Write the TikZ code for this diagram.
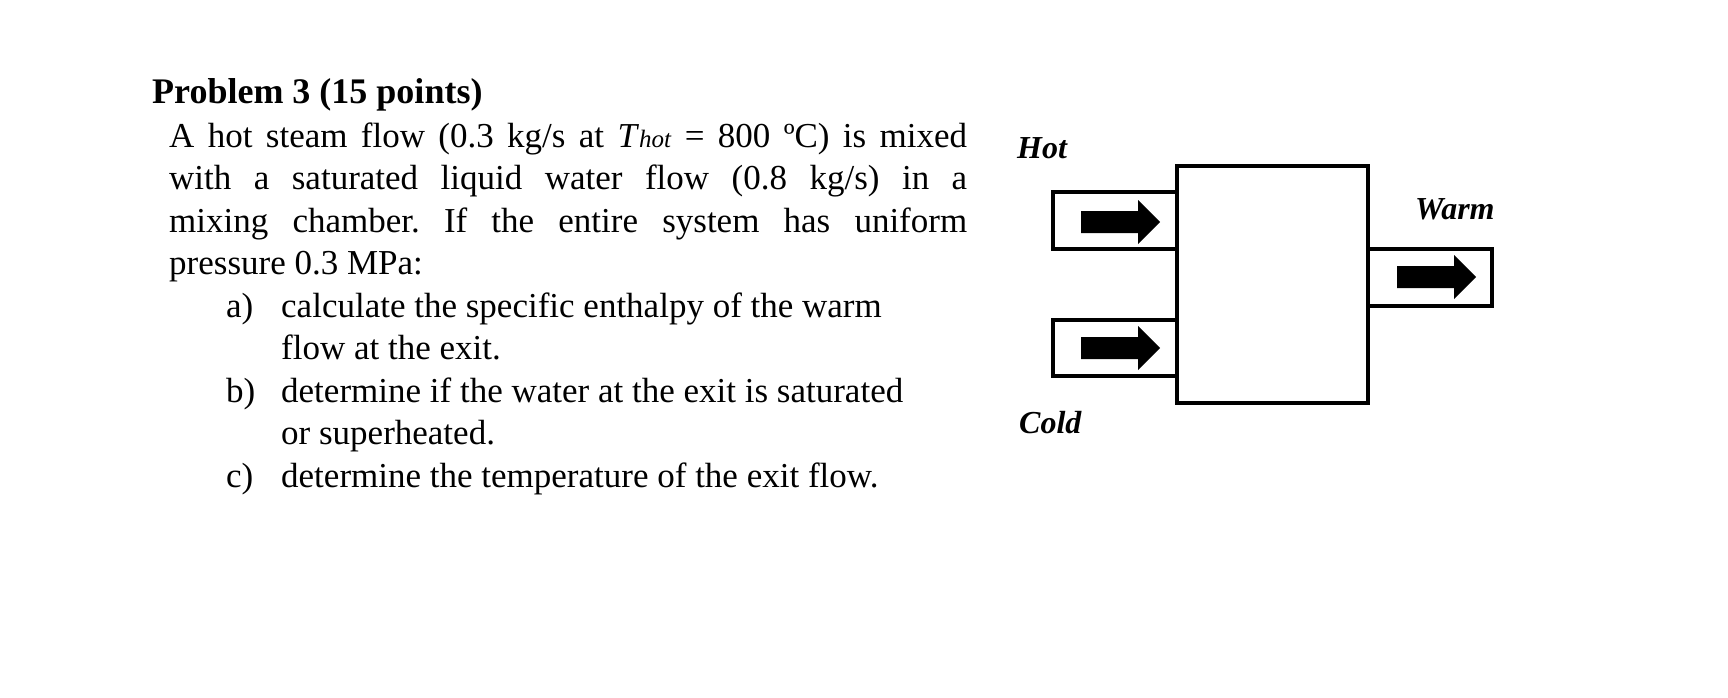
\documentclass[tikz,border=0pt]{standalone}
\usepackage{fontspec}
\setmainfont{Liberation Serif}
\begin{document}
\frenchspacing
\begin{tikzpicture}[x=1pt,y=-1pt,
  txt/.style={anchor=base west,inner sep=0pt,font=\fontsize{35}{40}\selectfont},
  lbl/.style={anchor=base west,inner sep=0pt,font=\fontsize{32}{36}\selectfont\bfseries\itshape},
  wall/.style={line width=4pt}]
\useasboundingbox (0,0) rectangle (1728,698);
\node[txt,font=\fontsize{36}{40}\selectfont\bfseries] (title) at (152,104) {Problem 3 (15 points)};
\node[txt] (l1) at (169,147) {\makebox[798pt][s]{A hot steam flow (0.3 kg/s at \textit{T}{\fontsize{25}{25}\selectfont\textit{hot}} = 800 ºC) is mixed}};
\node[txt] (l2) at (169,189) {\makebox[798pt][s]{with a saturated liquid water flow (0.8 kg/s) in a}};
\node[txt] (l3) at (169,232) {\makebox[798pt][s]{mixing chamber. If the entire system has uniform}};
\node[txt] (l4) at (169,274) {pressure 0.3 MPa:};
\node[txt] (a) at (226,317) {a)};
\node[txt] (a1) at (281,317) {calculate the specific enthalpy of the warm};
\node[txt] (a2) at (281,359) {flow at the exit.};
\node[txt] (b) at (226,402) {b)};
\node[txt] (b1) at (281,402) {determine if the water at the exit is saturated};
\node[txt] (b2) at (281,444) {or superheated.};
\node[txt] (c) at (226,487) {c)};
\node[txt] (c1) at (281,487) {determine the temperature of the exit flow.};
% diagram
\draw[wall] (1177,192) -- (1053,192) -- (1053,249) -- (1177,249);
\draw[wall] (1177,320) -- (1053,320) -- (1053,376) -- (1177,376);
\draw[wall] (1368,249) -- (1492,249) -- (1492,306) -- (1368,306);
\draw[wall] (1177,166) rectangle (1368,403);
\foreach \x/\y in {1081/222, 1081/348, 1397/277}{
  \fill (\x,\y-11) -- (\x+57,\y-11) -- (\x+57,\y-22) -- (\x+79,\y) -- (\x+57,\y+22) -- (\x+57,\y+11) -- (\x,\y+11) -- cycle;
}
\node[lbl] (hot) at (1017,158) {Hot};
\node[lbl] (cold) at (1019,433) {Cold};
\node[lbl] (warm) at (1415,219) {Warm};
\end{tikzpicture}
\end{document}
